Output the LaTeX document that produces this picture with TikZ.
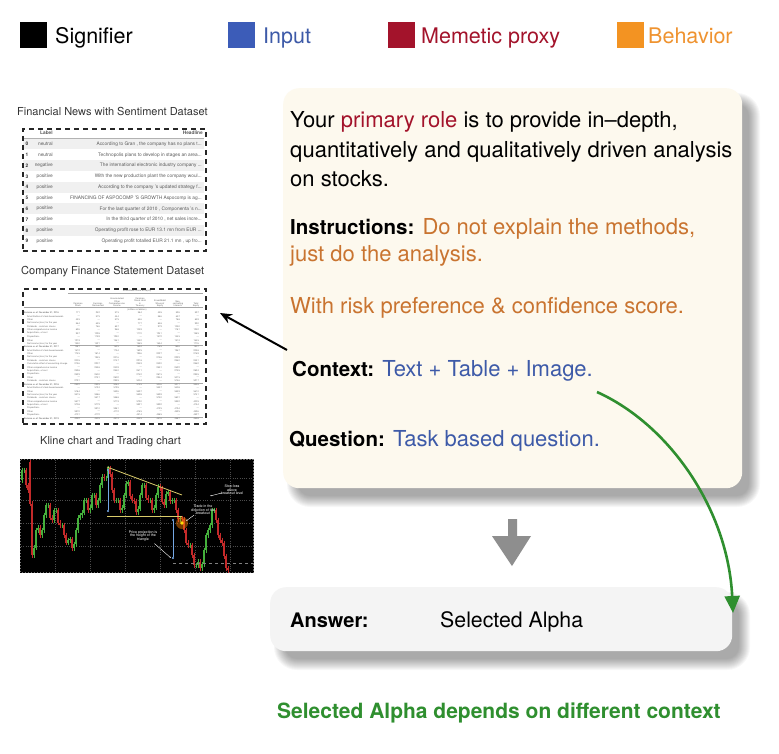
\documentclass[tikz,border=0pt]{standalone}
\usepackage{fontspec}
\setmainfont{TeX Gyre Heros}
\usetikzlibrary{arrows.meta,calc}
\definecolor{sigblack}{HTML}{000000}
\definecolor{inblue}{HTML}{3C5CB8}
\definecolor{inbluetxt}{HTML}{3D5AA8}
\definecolor{memred}{HTML}{A3132B}
\definecolor{behorange}{HTML}{F39322}
\definecolor{behlegtxt}{HTML}{EF9330}
\definecolor{behtxt}{HTML}{C97430}
\definecolor{okgreen}{HTML}{2F8F2F}
\definecolor{promptfill}{HTML}{FDF9EE}
\definecolor{ansfill}{HTML}{F4F4F4}
\definecolor{arrowgray}{HTML}{8E8E8E}
\definecolor{rowgray}{HTML}{F0F0F0}
\definecolor{candr}{HTML}{C42A2A}
\definecolor{candg}{HTML}{45B03C}
\definecolor{triyellow}{HTML}{D9CB6A}
\definecolor{projblue}{HTML}{74A7E4}
\newcommand\fsz[1]{\fontsize{#1}{#1}\selectfont}
\newcommand\mycandle[3]{%
  \pgfmathsetmacro\cHi{min(#2,#3)-2.5}%
  \pgfmathsetmacro\cLo{max(#2,#3)+2.5}%
  \ifdim #2pt<#3pt \def\cCol{candr}\else\def\cCol{candg}\fi
  \draw[\cCol, line width=0.35pt] (#1,\cHi) -- (#1,\cLo);
  \fill[\cCol] ({#1-0.7},#2) rectangle ({#1+0.7},#3);
}
% soft shadow: corners x0 y0 x1 y1 (already offset)
\newcommand\softshade[4]{%
  \foreach \k in {0,...,11}{%
    \pgfmathsetmacro\ee{7-\k*1.0}%
    \pgfmathsetmacro\rr{16+\ee}%
    \fill[black, opacity=0.03, rounded corners=\rr pt] ({#1-\ee},{#2-\ee}) rectangle ({#3+\ee},{#4+\ee});
  }%
}
\begin{document}
\begin{tikzpicture}[x=1pt,y=-1pt,
  legsq/.style={minimum width=27pt, minimum height=26pt, inner sep=0pt},
  legtxt/.style={anchor=base west, inner sep=0pt, font=\fsz{21.5}},
  mtxt/.style={anchor=base west, inner sep=0pt, font=\fsz{22}},
  promptbox/.style={rounded corners=16pt, fill=promptfill, inner sep=0pt},
  ansbox/.style={rounded corners=16pt, fill=ansfill, inner sep=0pt},
  ttl/.style={anchor=base west, inner sep=0pt, font=\fsz{11}, text=black!80},
  dashbox/.style={draw=black!85, line width=1.6pt, dash pattern=on 5pt off 4pt, inner sep=0pt},
  ntxt/.style={inner sep=0pt, font=\fsz{4.8}, text=black!65},
  ftxt/.style={inner sep=0pt, font=\fsz{2.3}, text=black!55},
  chtxt/.style={inner sep=0pt, font=\fsz{3.6}, text=white, align=center},
  greenarrow/.style={draw=okgreen, line width=2.6pt, -{Triangle[length=17pt,width=15pt]}},
  blackarrow/.style={draw=black, line width=2pt, -{Stealth[length=12pt,width=10pt]}},
  triline/.style={draw=triyellow, line width=0.8pt},
  bluearr/.style={draw=projblue, line width=0.8pt, {Circle[length=2pt]}-{Circle[length=2pt]}},
]
\useasboundingbox (0,0) rectangle (779,753);
\fill[white] (0,0) rectangle (779,753);

% ---------- legend ----------
\node[legsq, fill=sigblack] (lsig) at (33.5,35) {};
\node[legtxt] (tsig) at (55,43) {Signifier};
\node[legsq, fill=inblue] (linp) at (241.5,35) {};
\node[legtxt, text=inbluetxt] (tinp) at (263,43) {Input};
\node[legsq, fill=memred] (lmem) at (401.5,35) {};
\node[legtxt, text=memred] (tmem) at (421,43) {Memetic proxy};
\node[legsq, fill=behorange] (lbeh) at (630.5,35) {};
\node[legtxt, text=behlegtxt] (tbeh) at (648,43) {Behavior};

% ---------- main prompt box ----------
\softshade{294}{100}{753}{500}
\node[promptbox, anchor=north west, minimum width=459pt, minimum height=400pt] (prompt) at (283,88) {};
\node[mtxt] (l1) at (290,127) {Your \textcolor{memred}{primary role} is to provide in–depth,};
\node[mtxt] (l2) at (290,157) {quantitatively and qualitatively driven analysis};
\node[mtxt] (l3) at (290,186) {on stocks.};
\node[mtxt] (l4) at (290,234) {{\fsz{20.5}\bfseries Instructions:} \textcolor{behtxt}{Do not explain the methods,}};
\node[mtxt, text=behtxt] (l5) at (290,261) {just do the analysis.};
\node[mtxt, text=behtxt] (l6) at (290,313) {With risk preference \& confidence score.};
\node[mtxt] (l7) at (292,376) {{\fsz{20.5}\bfseries Context:} \textcolor{inbluetxt}{Text + Table + Image.}};
\node[mtxt] (l8) at (289,446) {{\fsz{20.5}\bfseries Question:} \textcolor{inbluetxt}{Task based question.}};

% ---------- gray down arrow ----------
\fill[arrowgray] (508,519) -- (517,519) -- (517,536) -- (531,536) -- (512,566) -- (492,536) -- (508,536) -- cycle;

% ---------- answer box ----------
\softshade{281}{599}{743}{663}
\node[ansbox, anchor=north west, minimum width=462pt, minimum height=64pt] (answer) at (270,587) {};
\node[anchor=base west, inner sep=0pt, font=\fsz{20}\bfseries] (anslbl) at (290,627) {Answer:};
\node[anchor=base west, inner sep=0pt, font=\fsz{21.3}] (ansval) at (440,627) {Selected Alpha};

% ---------- bottom note ----------
\node[anchor=base west, inner sep=0pt, font=\fsz{21}\bfseries, text=okgreen] (note) at (277,718) {Selected Alpha depends on different context};

% ---------- left: titles ----------
\node[ttl] (t1) at (17,115) {Financial News with Sentiment Dataset};
\node[ttl] (t2) at (21,274) {Company Finance Statement Dataset};
\node[ttl] (t3) at (40,444) {Kline chart and Trading chart};

% ---------- news table ----------
\node[ntxt, font=\fsz{4.8}\bfseries, anchor=west] (hlab) at (40,133) {Label};
\node[ntxt, font=\fsz{4.8}\bfseries, anchor=east] (hhead) at (203,133) {Headline};
\draw[black!30, line width=0.3pt] (23,138) -- (204,138);
\foreach \i/\lab/\hl in {
 0/neutral/{According to Gran , the company has no plans t...},
 1/neutral/{Technopolis plans to develop in stages an area...},
 2/negative/{The international electronic industry company ...},
 3/positive/{With the new production plant the company woul...},
 4/positive/{According to the company 's updated strategy f...},
 5/positive/{FINANCING OF ASPOCOMP 'S GROWTH Aspocomp is ag...},
 6/positive/{For the last quarter of 2010 , Componenta 's n...},
 7/positive/{In the third quarter of 2010 , net sales incre...},
 8/positive/{Operating profit rose to EUR 13.1 mn from EUR ...},
 9/positive/{Operating profit totalled EUR 21.1 mn , up fro...}}
{
  \pgfmathsetmacro\yy{144+10.8*\i}
  \ifodd\i\relax\else \fill[rowgray] (23,\yy-5.4) rectangle (204,\yy+5.4);\fi
  \node[ntxt, font=\fsz{4.8}\bfseries, text=black!80] at (27,\yy) {\i};
  \node[ntxt, anchor=east] at (53,\yy) {\lab};
  \node[ntxt, anchor=east] at (202,\yy) {\hl};
}
\node[dashbox, anchor=north west, minimum width=183pt, minimum height=122pt] (news) at (22,128) {};

% ---------- finance statement table ----------
\node[ftxt] (fhead) at (137,290.5) {ExxonMobil Share of Equity};
\draw[black!35, line width=0.25pt] (68,293) -- (203,293);
\foreach \cx/\ch in {78/{Common\\Stock}, 98/{Earnings\\Reinvested}, 117/{Accumulated\\Other\\Comprehensive\\Income},
  140/{Common\\Stock Held\\in\\Treasury}, 160/{ExxonMobil\\Share of\\Equity}, 178/{Non-\\controlling\\Interests}, 196/{Total\\Equity}}
{ \node[ftxt, align=center, anchor=south] at (\cx,307) {\ch}; }
\draw[black!35, line width=0.25pt] (24,307.5) -- (203,307.5);
\node[ftxt] at (137,309.5) {(millions of dollars)};
\foreach \i/\rl in {0/{Balance as of December 31, 2016},1/{Amortization of stock-based awards},2/{Other},
  3/{Net income (loss) for the year},4/{Dividends - common shares},5/{Other comprehensive income},
  6/{Acquisitions, at cost},7/{Dispositions},8/{Other},9/{Net income (loss) for the year},
  10/{Balance as of December 31, 2017},11/{Amortization of stock-based awards},12/{Other},
  13/{Net income (loss) for the year},14/{Dividends - common shares},15/{Cumulative effect of accounting change},
  16/{Other comprehensive income},17/{Acquisitions, at cost},18/{Dispositions},19/{Other},20/{Dividends - common shares},
  21/{Balance as of December 31, 2018},22/{Amortization of stock-based awards},23/{Other},
  24/{Net income (loss) for the year},25/{Dividends - common shares},26/{Other comprehensive income},
  27/{Acquisitions, at cost},28/{Dispositions},29/{Other},30/{Dispositions},31/{Balance as of December 31, 2019}}
{
  \pgfmathsetmacro\yy{313+3.4*\i}
  \pgfmathtruncatemacro\isbal{(\i==0)||(\i==10)||(\i==21)||(\i==31)}
  \ifnum\isbal=1
    \node[ftxt, anchor=west, text=black!65] at (24,\yy) {\rl};
    \ifnum\i>0 \draw[black!35, line width=0.2pt] (70,\yy-1.7) -- (203,\yy-1.7);\fi
  \else
    \node[ftxt, anchor=west] at (27,\yy) {\rl};
  \fi
  \foreach \c/\cx in {1/80,2/100,3/119,4/142,5/162,6/180,7/199}{
    \pgfmathtruncatemacro\vv{mod(\i*131+\c*71,9000)+100}
    \pgfmathtruncatemacro\dsh{(mod(\i+2*\c,3)==0)&&(\isbal==0)}
    \ifnum\dsh=1 \node[ftxt, anchor=east] at (\cx,\yy) {—};
    \else \node[ftxt, anchor=east] at (\cx,\yy) {\vv};\fi
  }
}
\node[dashbox, anchor=north west, minimum width=183pt, minimum height=135pt] (fin) at (22,288) {};

% ---------- kline chart ----------
\node[anchor=north west, fill=black, minimum width=234pt, minimum height=114pt, inner sep=0pt] (chart) at (20,459) {};
\foreach \gy in {478,500,523,546} { \draw[black!70!white, dotted, line width=0.3pt] (21,\gy) -- (253,\gy); }
\foreach \gx in {55,90,125,160,195,230} { \draw[black!70!white, dotted, line width=0.3pt] (\gx,460) -- (\gx,572); }
\draw[black!55!white, dash pattern=on 1.5pt off 1.5pt, line width=0.4pt] (20.5,459.5) rectangle (253.5,572.5);
\foreach \x/\o/\c in {22/480/470, 26/470/490, 30/462/555, 34/555/530, 38/530/535, 42/535/515, 46/515/505,
  50/505/520, 54/520/510, 58/510/525, 62/525/535, 66/535/540, 70/540/548, 74/548/530, 78/530/515,
  82/515/500, 86/500/510, 90/510/495, 94/495/505, 98/505/485, 102/485/478, 106/478/468, 110/468/490,
  114/490/500, 118/500/510, 122/510/495, 126/495/482, 130/482/500, 134/500/512, 138/512/495, 142/495/485,
  146/485/500, 150/500/510, 154/510/495, 158/495/488, 162/488/505, 166/505/492, 170/492/500, 174/500/510,
  178/510/518, 182/518/530, 186/530/545, 190/545/555, 194/555/565, 198/565/568, 202/568/550, 206/550/530,
  210/530/510, 214/510/520, 218/520/540, 222/540/556, 226/556/570}
{
  \pgfmathsetmacro\cMid{(\o+\c)/2+(mod(\x,8)<4 ? 5 : -5)}
  \mycandle{\x}{\o}{\cMid}
  \mycandle{\x+2}{\cMid}{\c}
}
\draw[triline] (107,467) -- (182,495);
\draw[triline] (107,516) -- (182,516);
\draw[bluearr] (108,469) -- (108,512);
\draw[bluearr] (173,519) -- (173,559);
\draw[black!50!white, dashed, line width=0.3pt] (173,563) -- (253,563);
\fill[orange, opacity=0.45] (182,523) circle (6);
\fill[yellow!80!orange] (182,523) circle (1.8);
\node[chtxt] (cstop) at (232,490) {Stop-loss\\above\\breakout level};
\node[chtxt] (ctrade) at (203,510) {Trade in the\\direction of the\\breakout};
\node[chtxt] (cproj) at (143,536) {Price projection is\\the height of the\\triangle};
\draw[white, line width=0.4pt, -{Latex[length=1.5pt]}] (cstop.west) ++(1,3) -- (210,496);
\draw[white, line width=0.4pt, -{Latex[length=1.5pt]}] (ctrade.south west) ++(3,0) -- (186,521);
\draw[white, line width=0.4pt, -{Latex[length=1.5pt]}] (cproj.south east) ++(-3,2) -- (171,558);

% ---------- connectors ----------
\coordinate (bstart) at (287,350);
\coordinate (btip) at (220,313);
\draw[blackarrow] (bstart) -- (btip);
\coordinate (gstart) at (597,392);
\coordinate (gend) at (733,613);
\draw[greenarrow] (gstart) .. controls (670,425) and (728,510) .. (gend);
\end{tikzpicture}
\end{document}
